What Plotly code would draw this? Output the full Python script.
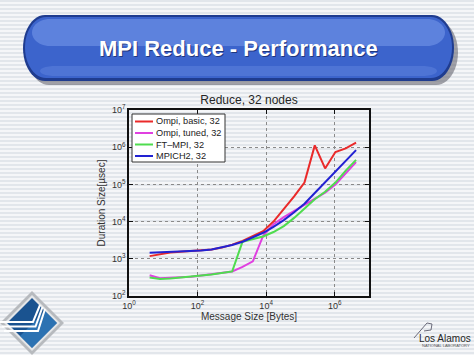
import plotly.graph_objects as go

# ---------------- data ----------------
msg_size = [4, 8, 16, 32, 64, 128, 256, 512, 1024, 2048, 4096, 8192, 16384,
            32768, 65536, 131072, 262144, 524288, 1048576, 2097152, 4194304]

ompi_basic = [1180, 1320, 1480, 1550, 1620, 1660, 1780, 2000, 2400, 3020, 3980,
              5500, 10000, 21400, 47900, 112000, 1120000, 269000, 741000, 933000, 1320000]
ompi_tuned = [363, 302, 309, 316, 331, 355, 389, 427, 457, 603, 851,
              4170, 8510, 13200, 19100, 28200, 41700, 60300, 100000, 200000, 398000]
ft_mpi = [316, 288, 295, 309, 324, 355, 380, 417, 457, 2880, 3310,
          3980, 5250, 7590, 12600, 22400, 39800, 63100, 112000, 234000, 457000]
mpich2 = [1450, 1480, 1510, 1550, 1620, 1660, 1780, 2000, 2340, 2880, 3800,
          5010, 7240, 11000, 17800, 30200, 58900, 115000, 224000, 427000, 832000]

series_names = ["Ompi, basic, 32", "Ompi, tuned, 32", "FT\u2013MPI, 32", "MPICH2, 32"]
series_values = [ompi_basic, ompi_tuned, ft_mpi, mpich2]
series_colors = ["#ea2a2a", "#e040e0", "#4fdc4f", "#2222d2"]

x_tick_vals = [1, 100, 10000, 1000000]
x_tick_text = ["10<sup>0</sup>", "10<sup>2</sup>", "10<sup>4</sup>", "10<sup>6</sup>"]
y_tick_vals = [1e2, 1e3, 1e4, 1e5, 1e6, 1e7]
y_tick_text = ["10<sup>2</sup>", "10<sup>3</sup>", "10<sup>4</sup>",
               "10<sup>5</sup>", "10<sup>6</sup>", "10<sup>7</sup>"]

slide_title = "MPI Reduce - Performance"
chart_title = "Reduce, 32 nodes"
x_title = "Message Size [Bytes]"
y_title = "Duration Size[\u00b5sec]"

# ---------------- geometry helpers (pixel -> paper) ----------------
FW, FH = 474, 355
L, T, W, H = 129, 110, 240, 186


def px(x):
    return (x - L) / W


def py(y):
    return (T + H - y) / H


def path_from_pixels(points, close=True):
    s = "M " + " L ".join(f"{px(x):.5f},{py(y):.5f}" for x, y in points)
    return s + (" Z" if close else "")


def pill(x0, y0, x1, y1, rx, n=24):
    import math
    ry = (y1 - y0) / 2
    cy = (y0 + y1) / 2
    pts = []
    for i in range(n + 1):
        a = -math.pi / 2 + math.pi * i / n
        pts.append((x1 - rx + rx * math.cos(a), cy + ry * math.sin(a)))
    for i in range(n + 1):
        a = math.pi / 2 + math.pi * i / n
        pts.append((x0 + rx + rx * math.cos(a), cy + ry * math.sin(a)))
    return path_from_pixels(pts)


fig = go.Figure()
for name, vals, col in zip(series_names, series_values, series_colors):
    fig.add_trace(go.Scatter(x=msg_size, y=vals, mode="lines", name=name,
                             line=dict(color=col, width=2), showlegend=False))

shapes = []
# striped slide background
for y in range(0, FH, 4):
    shapes.append(dict(type="rect", xref="paper", yref="paper", layer="below",
                       x0=px(0), x1=px(FW), y0=py(y), y1=py(y + 2),
                       fillcolor="#e2e6eb", line=dict(width=0)))

# title pill
shapes.append(dict(type="path", xref="paper", yref="paper", layer="above",
                   path=pill(27, 20, 458, 85, 22), fillcolor="rgba(90,90,100,0.55)",
                   line=dict(width=0)))
shapes.append(dict(type="path", xref="paper", yref="paper", layer="above",
                   path=pill(23, 15, 454, 81, 22), fillcolor="#1f3c8f",
                   line=dict(width=0)))
shapes.append(dict(type="path", xref="paper", yref="paper", layer="above",
                   path=pill(25, 17, 452, 78, 21), fillcolor="#3c64cc",
                   line=dict(width=0)))
shapes.append(dict(type="path", xref="paper", yref="paper", layer="above",
                   path=pill(32, 19, 445, 46, 18), fillcolor="rgba(120,155,235,0.55)",
                   line=dict(width=0)))
shapes.append(dict(type="path", xref="paper", yref="paper", layer="above",
                   path=pill(40, 66, 437, 76, 14), fillcolor="rgba(100,135,225,0.45)",
                   line=dict(width=0)))

# legend box
shapes.append(dict(type="rect", xref="paper", yref="paper", layer="above",
                   x0=px(132), x1=px(225), y0=py(114), y1=py(162),
                   fillcolor="white", line=dict(color="#333333", width=1)))
leg_y = [121.5, 133, 144.5, 156]
for yy, col in zip(leg_y, series_colors):
    shapes.append(dict(type="line", xref="paper", yref="paper", layer="above",
                       x0=px(135), x1=px(153), y0=py(yy), y1=py(yy),
                       line=dict(color=col, width=2)))

# bottom-left diamond logo
shapes.append(dict(type="path", xref="paper", yref="paper", layer="above",
                   path=path_from_pixels([(32, 291), (64, 323), (32, 355), (0, 323)]),
                   fillcolor="#b7babe", line=dict(width=0)))
shapes.append(dict(type="path", xref="paper", yref="paper", layer="above",
                   path=path_from_pixels([(32, 295), (60, 323), (32, 351), (4, 323)]),
                   fillcolor="#e4e6e8", line=dict(width=0)))
shapes.append(dict(type="path", xref="paper", yref="paper", layer="above",
                   path=path_from_pixels([(32, 298), (57, 323), (32, 348), (7, 323)]),
                   fillcolor="#1a5390", line=dict(width=0)))
shapes.append(dict(type="path", xref="paper", yref="paper", layer="above",
                   path=path_from_pixels([(57, 323), (32, 348), (20, 336), (45, 311)]),
                   fillcolor="rgba(60,140,205,0.55)", line=dict(width=0)))
for i in range(3):
    pts = [(0 + i * 2, 322 + i * 4.5), (33 + i * 2.5, 322 + i * 4.5), (40 + i * 2.5, 305 + i * 2)]
    shapes.append(dict(type="path", xref="paper", yref="paper", layer="above",
                       path=path_from_pixels(pts, close=False),
                       line=dict(color="white", width=2)))

# Los Alamos swoosh
shapes.append(dict(type="path", xref="paper", yref="paper", layer="above",
                   path=path_from_pixels([(414, 338), (427, 323), (432, 324), (431, 330), (424, 331)], close=False),
                   line=dict(color="#6a6a7a", width=1)))

annotations = [
    dict(text="<b>" + slide_title + "</b>", xref="paper", yref="paper",
         x=px(238), y=py(48), xshift=1, yshift=-1, showarrow=False,
         xanchor="center", yanchor="middle",
         font=dict(family="Liberation Sans", size=22, color="rgba(20,35,90,0.7)")),
    dict(text="<b>" + slide_title + "</b>", xref="paper", yref="paper",
         x=px(238), y=py(48), showarrow=False, xanchor="center", yanchor="middle",
         font=dict(family="Liberation Sans", size=22, color="white")),
    dict(text="Los Alamos", xref="paper", yref="paper", x=px(445), y=py(338),
         showarrow=False, xanchor="center", yanchor="middle",
         font=dict(family="Liberation Sans", size=10, color="#262626")),
    dict(text="NATIONAL LABORATORY", xref="paper", yref="paper", x=px(446), y=py(345),
         showarrow=False, xanchor="center", yanchor="middle",
         font=dict(family="Liberation Sans", size=4, color="#555555")),
]
for yy, name in zip(leg_y, series_names):
    annotations.append(dict(text=name, xref="paper", yref="paper", x=px(154), y=py(yy),
                            xanchor="left", yanchor="middle", showarrow=False,
                            font=dict(family="Liberation Sans", size=9.2, color="#222222")))

axis_common = dict(type="log", showline=True, linecolor="#111111", linewidth=1.5,
                   mirror="ticks", ticks="inside", ticklen=4, tickcolor="#111111",
                   showgrid=True, gridcolor="#8a8a8a", griddash="dot", gridwidth=1,
                   zeroline=False,
                   tickfont=dict(family="Liberation Sans", size=9, color="#333333"))

fig.update_layout(
    width=FW, height=FH,
    margin=dict(l=L, r=FW - L - W, t=T, b=FH - T - H, autoexpand=False),
    paper_bgcolor="#f5f6f8", plot_bgcolor="rgba(0,0,0,0)",
    title=dict(text=chart_title, x=px(249), xref="paper", y=1 - 100 / FH,
               yref="container", xanchor="center", yanchor="middle",
               font=dict(family="Liberation Sans", size=12, color="#262626")),
    xaxis=dict(axis_common, range=[0, 7], tickvals=x_tick_vals, ticktext=x_tick_text,
               title=dict(text=x_title, standoff=2,
                          font=dict(family="Liberation Sans", size=10, color="#333333"))),
    yaxis=dict(axis_common, range=[2, 7], tickvals=y_tick_vals, ticktext=y_tick_text,
               title=dict(text=y_title, standoff=4,
                          font=dict(family="Liberation Sans", size=10, color="#333333"))),
    shapes=shapes,
    annotations=annotations,
    showlegend=False,
)

fig.write_html("out.html", config={"displayModeBar": False},
               post_script="document.body.style.margin='0';document.body.style.overflow='hidden';")
